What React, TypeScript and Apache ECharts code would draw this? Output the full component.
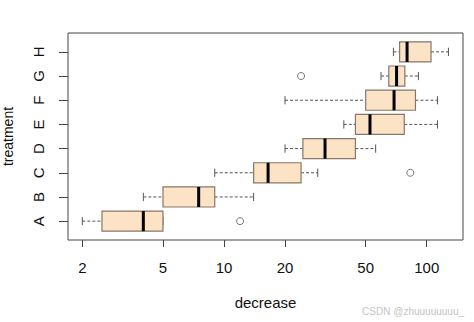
import React, { useEffect, useRef } from "react";
import * as echarts from "echarts";

const categories = ["A", "B", "C", "D", "E", "F", "G", "H"];
const whiskerLow = [2, 4, 9, 20, 39, 20, 59.5, 68.5];
const q1 = [2.5, 5, 14, 24.5, 44.5, 50, 65, 73.5];
const median = [4, 7.5, 16.5, 31.5, 52.5, 69, 71, 80];
const q3 = [5, 9, 24, 44.5, 77.5, 88, 78, 105];
const whiskerHigh = [5, 14, 29, 56, 113, 113, 91, 128];
const outlierCategory = ["A", "C", "G"];
const outlierValue = [12, 83, 24];
const xTicks = [2, 5, 10, 20, 50, 100];

const FONT = "Liberation Sans, Arial, sans-serif";

export default function App() {
  const ref = useRef<HTMLDivElement>(null);
  useEffect(() => {
    if (!ref.current) return;
    const chart = echarts.init(ref.current, null, { renderer: "svg" });
    const boxData = categories.map((_, i) => [
      i,
      whiskerLow[i],
      q1[i],
      median[i],
      q3[i],
      whiskerHigh[i],
    ]);
    const outData = outlierCategory.map((c, k) => [outlierValue[k], categories.indexOf(c)]);
    const yTicks = categories.map((_, i) => i);

    chart.setOption({
      animation: false,
      grid: {
        left: 68,
        right: 11,
        top: 33,
        bottom: 82,
        show: true,
        borderColor: "#444",
        borderWidth: 1,
        backgroundColor: "transparent",
        containLabel: false,
        outerBoundsMode: "none",
      },
      xAxis: {
        type: "log",
        logBase: 10,
        min: 1.7,
        max: 151,
        name: "decrease",
        nameLocation: "middle",
        nameGap: 55,
        nameTextStyle: { fontFamily: FONT, fontSize: 15, color: "#111" },
        axisLine: { show: false, onZero: false },
        splitLine: { show: false },
        minorTick: { show: false },
        axisTick: { show: true, length: 7, lineStyle: { color: "#444" }, customValues: xTicks },
        axisLabel: {
          customValues: xTicks,
          margin: 20,
          fontFamily: FONT,
          fontSize: 15,
          color: "#111",
          formatter: (v: number) => String(Math.round(v)),
        },
      },
      yAxis: {
        type: "value",
        min: -0.78,
        max: 7.78,
        name: "treatment",
        nameLocation: "middle",
        nameGap: 53,
        nameRotate: 90,
        nameTextStyle: { fontFamily: FONT, fontSize: 14, color: "#111" },
        axisLine: { show: false, onZero: false },
        splitLine: { show: false },
        axisTick: { show: true, length: 9, lineStyle: { color: "#444" }, customValues: yTicks },
        axisLabel: {
          customValues: yTicks,
          rotate: 90,
          margin: 22,
          fontFamily: FONT,
          fontSize: 15,
          color: "#111",
          formatter: (v: number) => categories[Math.round(v)] ?? "",
        },
      },
      graphic: [
        {
          type: "text",
          right: 10,
          top: 306,
          style: {
            text: "CSDN @zhuuuuuuuu_",
            fill: "#c4c4c4",
            font: `10px ${FONT}`,
          },
        },
      ],
      series: [
        {
          type: "custom",
          data: boxData,
          encode: { x: [1, 2, 3, 4, 5], y: 0 },
          renderItem: (params: any, api: any) => {
            const i = api.value(0);
            const lo = api.coord([api.value(1), i]);
            const b1 = api.coord([api.value(2), i]);
            const md = api.coord([api.value(3), i]);
            const b3 = api.coord([api.value(4), i]);
            const hi = api.coord([api.value(5), i]);
            const y = lo[1];
            const top = api.coord([api.value(3), i + 0.415])[1];
            const bot = api.coord([api.value(3), i - 0.415])[1];
            const capT = api.coord([api.value(3), i + 0.17])[1];
            const capB = api.coord([api.value(3), i - 0.17])[1];
            const whisk = { stroke: "#555", lineWidth: 1, lineDash: [3, 2] };
            const cap = { stroke: "#555", lineWidth: 1 };
            return {
              type: "group",
              children: [
                { type: "line", shape: { x1: lo[0], y1: y, x2: b1[0], y2: y }, style: whisk },
                { type: "line", shape: { x1: b3[0], y1: y, x2: hi[0], y2: y }, style: whisk },
                { type: "line", shape: { x1: lo[0], y1: capT, x2: lo[0], y2: capB }, style: cap },
                { type: "line", shape: { x1: hi[0], y1: capT, x2: hi[0], y2: capB }, style: cap },
                {
                  type: "rect",
                  shape: { x: b1[0], y: top, width: b3[0] - b1[0], height: bot - top },
                  style: { fill: "#FDE3C5", stroke: "#85776a", lineWidth: 1.2 },
                },
                {
                  type: "line",
                  shape: { x1: md[0], y1: top, x2: md[0], y2: bot },
                  style: { stroke: "#000", lineWidth: 3 },
                },
              ],
            };
          },
        },
        {
          type: "scatter",
          data: outData,
          symbol: "circle",
          symbolSize: 7,
          itemStyle: { color: "#fff", borderColor: "#555", borderWidth: 1 },
        },
      ],
    });
    return () => chart.dispose();
  }, []);
  return (
    <div
      ref={ref}
      style={{ position: "absolute", left: 0, top: 0, width: 474, height: 322, background: "#fff" }}
    />
  );
}
